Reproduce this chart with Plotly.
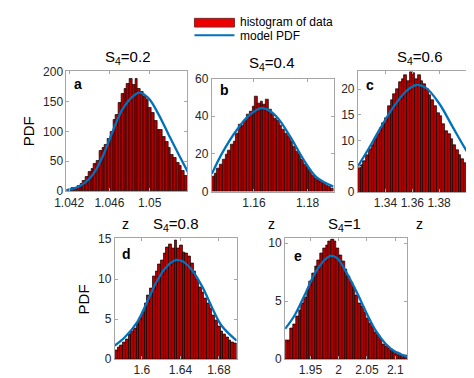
import numpy as np
import plotly.graph_objects as go

W, H = 474, 378

# ---------------- data ----------------
titles = ["S<sub>4</sub>=0.2", "S<sub>4</sub>=0.4", "S<sub>4</sub>=0.6", "S<sub>4</sub>=0.8", "S<sub>4</sub>=1"]
letters = ["a", "b", "c", "d", "e"]

# histogram bin ranges (data units)
a_range = [1.04173, 1.05375]
b_range = [1.14426, 1.18970]
c_range = [1.31940, 1.41080]
d_range = [1.57190, 1.69850]
e_range = [1.90520, 2.12070]

a_hist = [3, 4, 5, 6, 9, 13, 18, 24, 32, 37, 45, 50, 67, 72, 77, 88, 99, 120, 128, 147,
          163, 171, 180, 188, 177, 188, 171, 166, 158, 153, 139, 131, 118, 102, 102, 91,
          83, 72, 61, 56, 48, 42, 34, 26]
b_hist = [7.7, 9.4, 12, 14.5, 17, 19.6, 22, 24.7, 26.4, 30.7, 35.8, 35, 37.5, 41, 42.6,
          45.2, 50.3, 46.9, 47.7, 46, 48.6, 43.5, 41, 39, 37.5, 35, 33, 30.7, 29, 26.4,
          23.9, 21.3, 19.6, 17, 14.5, 12.8, 11, 8.5, 6.8, 6, 5.1, 4.3, 3.4, 2.6, 1.7]
c_hist = [4.7, 5.3, 5.9, 7.2, 8.4, 9.1, 10.3, 11.3, 12.5, 13.4, 14.4, 16.6, 17.8, 19.1,
          20, 21.3, 21.9, 22.8, 21.6, 23.4, 23.1, 21.9, 22.8, 21.6, 20.9, 20, 18.8, 17.8,
          16.6, 15.3, 14.7, 13.1, 11.9, 11.3, 10.3, 9.1, 8.1, 7.2, 6.3, 5.6, 5.3, 4.7,
          4.1, 3.8, 3.4]
d_hist = [1.1, 1.5, 1.7, 2.1, 2.5, 3.1, 3.5, 3.9, 4.5, 5.1, 5.9, 7, 8, 8.8, 10.4, 11,
          11.8, 12.4, 13.2, 14, 14.4, 13.8, 14.8, 13.8, 14.2, 13.4, 13.2, 12.8, 12, 11,
          10, 9, 8.4, 7.6, 7, 6.4, 5.5, 4.9, 4.1, 3.5, 3.1, 2.7, 2.3, 2.1, 1.9]
e_hist = [1.6, 1.6, 2.6, 3, 3.7, 4.2, 4.8, 5.3, 6, 6.7, 7.4, 8, 8.5, 9.1, 9.5, 9.8, 10.1,
          10.3, 10.1, 9.5, 8.9, 8.4, 7.7, 7.1, 6.6, 6.2, 5.5, 4.8, 4.5, 4, 3.5, 3.1, 2.7,
          2.3, 2, 1.7, 1.3, 1.05, 0.9, 0.8, 0.65, 0.55, 0.45, 0.35, 0.3]

# model PDF curves
a_pdf_x = [1.04175, 1.0431, 1.0444, 1.0454, 1.0463, 1.0473, 1.0483, 1.0490, 1.0499, 1.0509, 1.0519, 1.0529, 1.0538]
a_pdf_y = [2, 9, 29, 61, 99, 137, 158, 164.5, 155, 128, 94, 61, 32]
b_pdf_x = [1.1443, 1.1482, 1.1530, 1.1579, 1.1627, 1.1651, 1.1688, 1.1736, 1.1785, 1.1833, 1.1897]
b_pdf_y = [9.4, 20.5, 31.5, 40, 44.3, 43.5, 39.2, 29, 17, 7.7, 2.6]
c_pdf_x = [1.3194, 1.3267, 1.3364, 1.3461, 1.3558, 1.3631, 1.3704, 1.3801, 1.3898, 1.3995, 1.4100]
c_pdf_y = [5, 8.1, 12.5, 16.6, 19.7, 20.8, 20.2, 17.2, 12.8, 8.4, 4.1]
d_pdf_x = [1.5719, 1.5820, 1.5955, 1.6056, 1.6158, 1.6259, 1.6360, 1.6427, 1.6529, 1.6630, 1.6731, 1.6833, 1.6985]
d_pdf_y = [1.7, 2.7, 4.7, 7.2, 9.8, 11.6, 12.4, 12.2, 11, 9, 6.4, 4.1, 2.3]
e_pdf_x = [1.9052, 1.9224, 1.9396, 1.9569, 1.9741, 1.9856, 1.9971, 2.0144, 2.0316, 2.0489, 2.0661, 2.0833, 2.1006, 2.1207]
e_pdf_y = [2.6, 3.8, 5.5, 7.3, 8.5, 8.9, 8.7, 7.4, 5.8, 4.0, 2.4, 1.3, 0.6, 0.2]

# axes ticks
a_xticks = [1.042, 1.046, 1.05]
b_xticks = [1.16, 1.18]
c_xticks = [1.34, 1.36, 1.38]
d_xticks = [1.6, 1.64, 1.68]
e_xticks = [1.95, 2, 2.05, 2.1]
a_yticks = [0, 50, 100, 150, 200]
b_yticks = [0, 20, 40, 60]
c_yticks = [0, 5, 10, 15, 20]
d_yticks = [0, 5, 10, 15]
e_yticks = [0, 5, 10]

# ---------------- layout (pixel boxes) ----------------
panels = [
    dict(rng=a_range, h=a_hist, px=a_pdf_x, py=a_pdf_y, xt=a_xticks, yt=a_yticks,
         box=(47.7, 171.7, 58, 183), yr=[0, 201], xr=[1.04173, 1.05375]),
    dict(rng=b_range, h=b_hist, px=b_pdf_x, py=b_pdf_y, xt=b_xticks, yt=b_yticks,
         box=(196.7, 321.7, 66, 183.3), yr=[0, 60], xr=[1.14426, 1.1897]),
    dict(rng=c_range, h=c_hist, px=c_pdf_x, py=c_pdf_y, xt=c_xticks, yt=c_yticks,
         box=(346.7, 472.3, 58.3, 183.7), yr=[0, 23.5], xr=[1.3194, 1.4108]),
    dict(rng=d_range, h=d_hist, px=d_pdf_x, py=d_pdf_y, xt=d_xticks, yt=d_yticks,
         box=(97.3, 222.3, 232, 357.3), yr=[0, 15.1], xr=[1.5719, 1.6985]),
    dict(rng=e_range, h=e_hist, px=e_pdf_x, py=e_pdf_y, xt=e_xticks, yt=e_yticks,
         box=(272, 397, 232, 357.3), yr=[0, 10.4], xr=[1.9052, 2.1207]),
]

FONT = "Liberation Sans, Arial, Helvetica, sans-serif"
AXC = "#a6a6a6"
BLUE = "#0072BD"

fig = go.Figure()
layout = {}
for i, p in enumerate(panels):
    n = len(p["h"])
    edges = np.linspace(p["rng"][0], p["rng"][1], n + 1)
    centers = (edges[:-1] + edges[1:]) / 2
    bw = edges[1] - edges[0]
    sfx = "" if i == 0 else str(i + 1)
    fig.add_trace(go.Bar(x=centers, y=p["h"], width=bw, marker=dict(color="#b00000", line=dict(color="#140000", width=0.7)),
                         xaxis="x" + sfx, yaxis="y" + sfx, showlegend=False))
    fig.add_trace(go.Scatter(x=p["px"], y=p["py"], mode="lines", line=dict(color=BLUE, width=2.3, shape="spline", smoothing=1.0),
                             xaxis="x" + sfx, yaxis="y" + sfx, showlegend=False, cliponaxis=True))
    x0, x1, y0, y1 = p["box"]
    common = dict(showline=True, linecolor=AXC, linewidth=1, mirror="ticks", ticks="inside", ticklen=3,
                  tickcolor=AXC, showgrid=False, zeroline=False, tickangle=0,
                  tickfont=dict(size=12, color="#262626", family=FONT))
    layout["xaxis" + sfx] = dict(domain=[x0 / W, x1 / W], range=p["xr"], tickvals=p["xt"],
                                 ticktext=[("%g" % v) for v in p["xt"]], anchor="y" + sfx, **common)
    layout["yaxis" + sfx] = dict(domain=[1 - y1 / H, 1 - y0 / H], range=p["yr"], tickvals=p["yt"],
                                 anchor="x" + sfx, **common)

fig.update_layout(**layout)

ann = []
def txt(x, y, s, size=13, bold=False, angle=0):
    ann.append(dict(x=x / W, y=1 - y / H, xref="paper", yref="paper", text=("<b>%s</b>" % s if bold else s),
                    showarrow=False, xanchor="center", yanchor="middle", textangle=angle,
                    font=dict(size=size, color="#000000", family=FONT)))

# titles
txt(110, 44, titles[0], 15)
txt(258, 50, titles[1], 15)
txt(410, 44, titles[2], 15)
txt(160, 218, titles[3], 15)
txt(333, 218, titles[4], 15)
# x labels
for xz in (108, 258, 410):
    txt(xz, 217, "z", 14)
# y labels
txt(9, 121, "PDF", 15, angle=-90)
txt(65, 295, "PDF", 15, angle=-90)
# panel letters
txt(60, 72, letters[0], 14, bold=True)
txt(210, 78, letters[1], 14, bold=True)
txt(359, 73, letters[2], 14, bold=True)
txt(109, 248, letters[3], 14, bold=True)
txt(285, 250, letters[4], 14, bold=True)
# legend texts
ann.append(dict(x=224 / W, y=1 - 7.5 / H, xref="paper", yref="paper", text="histogram of data", showarrow=False,
                xanchor="left", yanchor="middle", font=dict(size=12, color="#000", family=FONT)))
ann.append(dict(x=224 / W, y=1 - 21.5 / H, xref="paper", yref="paper", text="model PDF", showarrow=False,
                xanchor="left", yanchor="middle", font=dict(size=12, color="#000", family=FONT)))

shapes = [
    dict(type="rect", xref="paper", yref="paper", x0=179 / W, x1=220 / W, y0=1 - 12.5 / H, y1=1 - 3.5 / H,
         fillcolor="#ee0000", line=dict(color="#7a2a2a", width=1)),
    dict(type="line", xref="paper", yref="paper", x0=179 / W, x1=220 / W, y0=1 - 21 / H, y1=1 - 21 / H,
         line=dict(color=BLUE, width=2)),
]

fig.update_layout(width=W, height=H, margin=dict(l=0, r=0, t=0, b=0), paper_bgcolor="white",
                  plot_bgcolor="white", bargap=0, annotations=ann, shapes=shapes, showlegend=False,
                  font=dict(family=FONT))
fig.write_html("out.html")
